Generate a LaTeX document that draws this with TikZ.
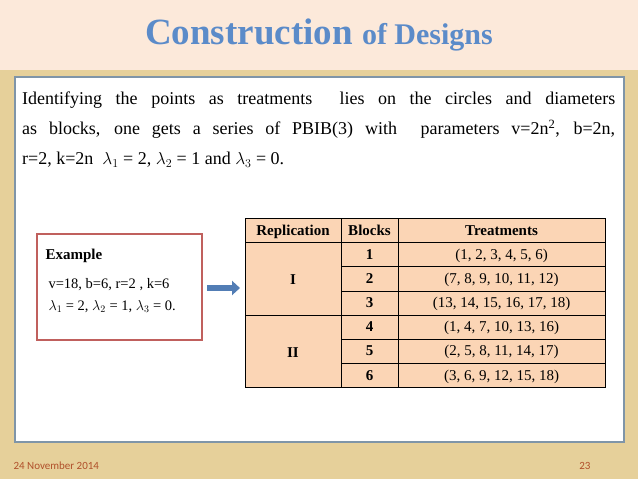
\documentclass[tikz,border=0pt]{standalone}
\usepackage{fontspec}
\usetikzlibrary{arrows.meta}
\setmainfont{Liberation Serif}
\newfontfamily\foot{Carlito}
\definecolor{parch}{HTML}{E6D09A}
\definecolor{band}{HTML}{FCE9DA}
\definecolor{ttl}{HTML}{5B8BC9}
\definecolor{cell}{HTML}{FBD5B5}
\definecolor{exb}{HTML}{C0605D}
\definecolor{pan}{HTML}{7F95A8}
\definecolor{ft}{HTML}{B0502A}
\tikzset{x=1pt,y=-1pt,
 tc/.style={anchor=base,font=\fontsize{15}{17}\selectfont},
 th/.style={anchor=base,font=\fontsize{15}{17}\selectfont\bfseries}}
\begin{document}
\begin{tikzpicture}
\useasboundingbox (0,0) rectangle (638,479);
\fill[parch] (0,0) rectangle (638,479);
\fill[band] (0,0) rectangle (638,70);
\node[text=ttl,font=\bfseries,anchor=base] (title) at (319,44) {\fontsize{37}{40}\selectfont Construction \fontsize{30}{32}\selectfont of Designs};
\fill[white,draw=pan,line width=1.5pt] (15,77) rectangle (624,442);
\node[text width=593pt,align=justify,anchor=north west,inner sep=0,font=\fontsize{18}{30}\selectfont] (txt) at (22,92) {Identifying the points as treatments\ \ lies on the circles and diameters\linebreak as blocks, one gets a series of PBIB(3) with\ \ parameters v=2n\textsuperscript{2}, b=2n,\linebreak r=2, k=2n\ \ $\lambda_1$ = 2, $\lambda_2$ = 1 and $\lambda_3$ = 0.};
\draw[exb,line width=1.2pt] (37,234) rectangle (202,340);
\node[anchor=base west,font=\fontsize{15}{17}\selectfont\bfseries] (ex) at (42,259) {Example};
\node[anchor=base west,font=\fontsize{14.5}{17}\selectfont] (l1) at (45,288) {v=18, b=6, r=2 , k=6};
\node[anchor=base west,font=\fontsize{14.5}{17}\selectfont] (l2) at (45,310) {$\lambda_1$ = 2, $\lambda_2$ = 1, $\lambda_3$ = 0.};
\coordinate (a1) at (207,288); \coordinate (a2) at (240,288);
\draw[-{Triangle[length=8pt,width=14pt]},line width=6pt,draw=ttl!90!black] (a1) -- (a2);
\fill[cell] (245,218) rectangle (605,387);
\draw[line width=0.8pt] (245,218) rectangle (605,387);
\draw (341,218) -- (341,387) (398,218) -- (398,387);
\draw (245,242) -- (605,242) (245,315) -- (605,315);
\foreach \y in {266,291,339,363} \draw (341,\y) -- (605,\y);
\node[th] (h1) at (293,235) {Replication};
\node[th] (h2) at (369.5,235) {Blocks};
\node[th] (h3) at (501.5,235) {Treatments};
\node[th] (r1) at (293,284) {I};
\node[th] (r2) at (293,357) {II};
\foreach \b/\t [count=\i] in {1/{(1, 2, 3, 4, 5, 6)},2/{(7, 8, 9, 10, 11, 12)},3/{(13, 14, 15, 16, 17, 18)},4/{(1, 4, 7, 10, 13, 16)},5/{(2, 5, 8, 11, 14, 17)},6/{(3, 6, 9, 12, 15, 18)}}{
 \node[th] (b\i) at (369.5,{242+24.2*(\i-0.5)+5}) {\b};
 \node[tc] (t\i) at (501.5,{242+24.2*(\i-0.5)+5}) {\t};}
\node[anchor=west,text=ft,font=\foot\fontsize{11}{12}\selectfont] (d) at (10,466) {24 November 2014};
\node[anchor=east,text=ft,font=\foot\fontsize{11}{12}\selectfont] (p) at (594,466) {23};
\end{tikzpicture}
\end{document}
